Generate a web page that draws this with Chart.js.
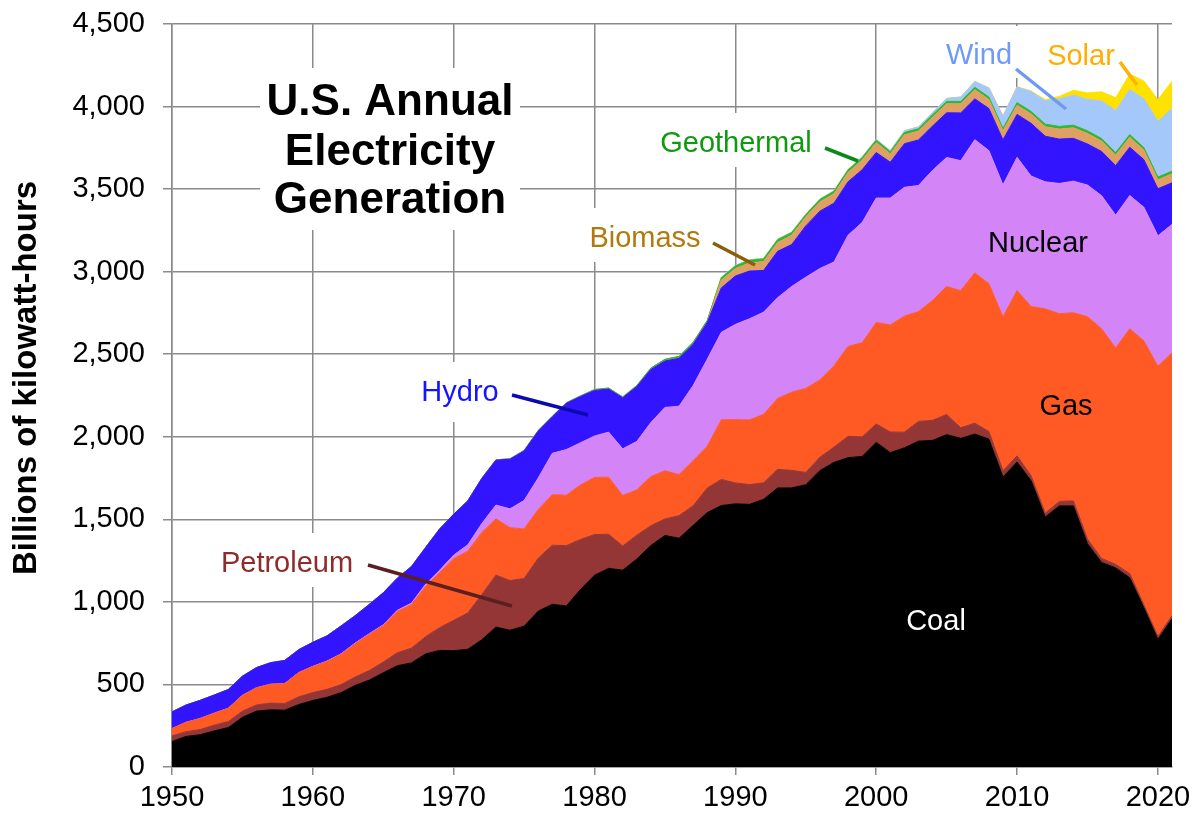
<!DOCTYPE html>
<html>
<head>
<meta charset="utf-8">
<script src="https://cdn.jsdelivr.net/npm/chart.js@4.4.1/dist/chart.umd.min.js"></script>
<style>
  html, body { margin: 0; padding: 0; background: #ffffff; }
  #wrap { width: 1200px; height: 822px; position: relative; }
</style>
</head>
<body>
<div id="wrap"><canvas id="c"></canvas></div>
<script>
// ---------- DATA (billion kWh) ----------
const years = [
  1950,1951,1952,1953,1954,1955,1956,1957,1958,1959,
  1960,1961,1962,1963,1964,1965,1966,1967,1968,1969,
  1970,1971,1972,1973,1974,1975,1976,1977,1978,1979,
  1980,1981,1982,1983,1984,1985,1986,1987,1988,1989,
  1990,1991,1992,1993,1994,1995,1996,1997,1998,1999,
  2000,2001,2002,2003,2004,2005,2006,2007,2008,2009,
  2010,2011,2012,2013,2014,2015,2016,2017,2018,2019,
  2020,2021
];
const coal = [
  154.5,185.2,195.4,218.8,239.1,301.4,338.5,346.4,344.4,378.4,
  403.1,421.9,450.2,493.9,526.2,570.9,613.5,630.5,684.9,706.0,
  704.4,713.1,771.1,847.7,828.4,852.8,944.4,985.2,975.7,1075.0,
  1161.6,1203.2,1192.0,1259.4,1341.7,1402.1,1385.8,1463.8,1540.7,1583.6,
  1594.0,1590.6,1621.2,1690.1,1690.7,1709.4,1795.2,1845.0,1873.5,1881.1,
  1966.3,1904.0,1933.1,1973.7,1978.3,2012.9,1990.5,2016.5,1985.8,1755.9,
  1847.3,1733.4,1514.0,1581.1,1581.7,1352.4,1239.1,1205.8,1146.0,965.0,
  773.4,897.9
];
const petroleum = [
  33.7,29.0,31.3,34.6,36.2,37.1,37.3,40.6,40.4,46.9,
  48.0,48.5,48.5,51.4,57.5,64.8,78.8,89.3,104.3,138.1,
  184.2,220.2,273.9,314.3,300.9,289.1,320.0,358.2,365.1,303.5,
  246.0,206.4,146.8,144.5,119.8,100.2,136.6,118.5,148.9,158.3,
  126.5,119.8,100.2,112.8,105.9,74.6,81.4,92.6,128.8,118.1,
  111.2,125.0,94.6,119.4,121.1,122.2,64.2,65.7,46.2,38.9,
  37.1,30.2,23.2,27.2,30.2,28.2,24.2,21.4,25.2,18.3,
  17.3,19.2
];
const gas = [
  44.6,56.7,67.3,72.8,81.1,95.3,104.3,114.5,120.0,146.5,
  158.0,169.3,184.3,202.0,220.0,221.6,251.2,264.8,304.4,333.3,
  372.9,374.0,375.7,340.9,320.1,299.8,294.6,305.5,305.4,329.5,
  346.2,345.8,305.3,274.1,297.4,291.9,248.5,272.6,252.8,361.1,
  383.2,391.6,414.3,429.4,473.6,509.1,468.0,492.2,545.0,570.2,
  614.6,648.2,702.8,665.3,725.8,774.9,830.4,910.7,894.9,931.6,
  1000.9,1025.0,1237.6,1137.1,1139.1,1346.5,1391.3,1310.0,1482.7,1598.1,
  1636.3,1591.2
];
const nuclear = [
  0,0,0,0,0,0,0,0.01,0.2,0.19,
  0.5,1.7,2.3,3.2,3.3,3.7,5.5,7.7,12.5,13.9,
  21.8,38.1,54.1,83.5,114.0,172.5,191.1,250.9,276.4,255.2,
  251.1,272.7,282.8,293.7,327.6,383.7,414.0,455.3,527.0,529.4,
  576.9,612.6,618.8,610.3,640.4,673.4,674.7,628.6,673.7,728.3,
  753.9,768.8,780.1,763.7,788.5,782.0,787.2,806.4,806.2,798.9,
  807.0,790.2,769.3,789.0,797.2,797.2,805.7,805.0,807.1,809.4,
  789.9,778.2
];
const hydro = [
  100.9,104.4,109.6,109.6,113.0,116.2,122.0,130.2,140.2,138.6,
  145.8,152.4,168.6,165.8,177.1,193.9,194.8,221.5,222.5,250.2,
  247.5,266.3,273.1,272.1,301.0,300.0,284.3,220.5,280.4,280.0,
  276.0,261.0,309.2,332.1,321.2,281.1,290.8,249.7,223.0,269.2,
  292.9,289.0,253.1,280.5,254.1,310.8,347.2,356.5,323.3,319.5,
  275.6,217.0,264.3,275.8,268.4,270.3,289.2,247.5,254.8,273.4,
  260.2,319.4,276.2,268.6,259.4,249.1,267.8,300.3,292.5,287.9,
  285.3,251.6
];
const biomass = [
  0.4,0.4,0.4,0.4,0.3,0.3,0.3,0.2,0.2,0.2,
  0.1,0.1,0.1,0.1,0.1,0.1,0.1,0.1,0.1,0.1,
  0.2,0.2,0.2,0.2,0.2,0.2,0.2,0.2,0.2,0.3,
  0.4,0.4,0.4,0.5,0.6,0.9,1.0,1.2,1.7,46.8,
  45.8,49.4,53.5,53.8,56.2,54.1,56.1,57.0,56.8,58.4,
  60.7,49.7,53.7,53.3,53.5,54.3,54.9,55.5,55.0,54.5,
  56.1,56.7,57.6,60.9,64.0,63.6,62.8,62.8,60.5,57.5,
  54.5,54.4
];
const geothermal = [
  0,0,0,0,0,0,0,0,0,0,
  0.03,0.1,0.1,0.2,0.2,0.2,0.2,0.3,0.4,0.6,
  0.5,0.5,1.5,2.0,2.5,3.2,3.6,3.6,3.0,3.9,
  5.1,5.7,4.8,6.1,7.7,9.3,10.3,10.8,10.3,14.6,
  15.4,16.0,16.1,16.8,15.5,13.4,14.3,14.7,14.8,14.8,
  14.1,13.7,14.5,14.4,14.8,14.7,14.6,14.6,14.8,15.0,
  15.2,15.3,15.6,15.8,15.9,15.9,15.8,15.9,16.0,15.5,
  16.0,16.0
];
const wind = [
  0,0,0,0,0,0,0,0,0,0,
  0,0,0,0,0,0,0,0,0,0,
  0,0,0,0,0,0,0,0,0,0,
  0,0,0,0,0,0,0,0,0,2.1,
  2.8,3.0,2.9,3.0,3.4,3.2,3.2,3.3,3.0,4.5,
  5.6,6.7,10.4,11.2,14.1,17.8,26.6,34.5,55.4,73.9,
  94.7,120.2,140.8,167.8,181.7,190.7,227.0,254.3,272.7,295.9,
  337.9,379.8
];
const solar = [
  0,0,0,0,0,0,0,0,0,0,
  0,0,0,0,0,0,0,0,0,0,
  0,0,0,0,0,0,0,0,0,0,
  0,0,0,0,0,0,0,0,0,0.3,
  0.4,0.5,0.4,0.5,0.5,0.5,0.5,0.5,0.5,0.5,
  0.5,0.5,0.6,0.5,0.6,0.6,0.5,0.6,0.9,0.9,
  2.0,3.5,7.0,14.0,28.9,39.0,55.5,77.3,93.4,107.2,
  131.2,164.4
];
const xTickYears = [1950,1960,1970,1980,1990,2000,2010,2020];
const yTickStep = 500;
const yMax = 4500;

const seriesNames  = ['Coal','Petroleum','Gas','Nuclear','Hydro','Biomass','Geothermal','Wind','Solar'];
const seriesData   = [coal, petroleum, gas, nuclear, hydro, biomass, geothermal, wind, solar];
const seriesColors = ['#000000','#943636','#FF5A24','#D385F8','#3314FF','#E0A064','#2DB82D','#A5C8FA','#FFE100'];

// ---------- annotation styling ----------
const FONT = "'Liberation Sans', Arial, Helvetica, sans-serif";
const whiteBoxes = [
  [260, 68, 260, 162],   // title
  [210, 533, 155, 54],   // Petroleum
  [405, 362, 107, 60],   // Hydro
  [578, 208, 134, 54],   // Biomass
  [650, 113, 172, 54],   // Geothermal
  [935, 26, 86, 52],     // Wind
  [1040, 30, 85, 48]     // Solar
];
const labels = [
  {t:'Petroleum', x:287, y:572, c:'#8E2B2B'},
  {t:'Hydro',     x:460, y:401, c:'#1414FF'},
  {t:'Biomass',   x:645, y:247, c:'#B07A0C'},
  {t:'Geothermal',x:736, y:152, c:'#0E9A0E'},
  {t:'Wind',      x:979, y:64,  c:'#6F9AF5'},
  {t:'Solar',     x:1081,y:65,  c:'#FFAE00'},
  {t:'Nuclear',   x:1038,y:252, c:'#000000'},
  {t:'Gas',       x:1066,y:415, c:'#000000'},
  {t:'Coal',      x:936, y:630, c:'#FFFFFF'}
];
const leaders = [
  {x1:368, y1:565, x2:512, y2:606, c:'#5C1F1F'},
  {x1:512, y1:395, x2:588, y2:415, c:'#0A0AB0'},
  {x1:713, y1:243, x2:755, y2:265, c:'#8B5E0A'},
  {x1:825, y1:148, x2:858, y2:161, c:'#0A8A1A'},
  {x1:1016,y1:69,  x2:1066,y2:109, c:'#6E9BF0'},
  {x1:1120,y1:62,  x2:1137,y2:85,  c:'#FFB000'}
];

const annotPlugin = {
  id: 'annot',
  beforeDatasetsDraw(chart) {
    const ctx = chart.ctx;
    ctx.save();
    ctx.fillStyle = '#ffffff';
    whiteBoxes.forEach(b => ctx.fillRect(b[0], b[1], b[2], b[3]));
    ctx.restore();
  },
  afterDatasetsDraw(chart) {
    const ctx = chart.ctx;
    ctx.save();
    ctx.lineCap = 'butt';
    leaders.forEach(l => {
      ctx.strokeStyle = l.c; ctx.lineWidth = 3.5;
      ctx.beginPath(); ctx.moveTo(l.x1, l.y1); ctx.lineTo(l.x2, l.y2); ctx.stroke();
    });
    ctx.textAlign = 'center';
    ctx.textBaseline = 'alphabetic';
    ctx.font = '29px ' + FONT;
    labels.forEach(l => { ctx.fillStyle = l.c; ctx.fillText(l.t, l.x, l.y); });
    ctx.fillStyle = '#000000';
    ctx.font = 'bold 44px ' + FONT;
    ctx.fillText('U.S. Annual', 390, 115);
    ctx.fillText('Electricity', 390, 165);
    ctx.fillText('Generation', 390, 213);
    ctx.translate(36, 378);
    ctx.rotate(-Math.PI / 2);
    ctx.font = 'bold 33px ' + FONT;
    ctx.fillText('Billions of kilowatt-hours', 0, 0);
    ctx.restore();
  }
};

const datasets = seriesNames.map((name, i) => ({
  label: name,
  data: seriesData[i],
  backgroundColor: seriesColors[i],
  borderColor: seriesColors[i],
  borderWidth: 1,
  pointRadius: 0,
  tension: 0,
  fill: i === 0 ? 'origin' : '-1'
}));

new Chart(document.getElementById('c'), {
  type: 'line',
  data: { labels: years, datasets },
  plugins: [annotPlugin],
  options: {
    responsive: true,
    maintainAspectRatio: false,
    animation: false,
    layout: { padding: { left: 0, right: 28, top: 24, bottom: 0 } },
    plugins: { legend: { display: false }, tooltip: { enabled: false } },
    scales: {
      x: {
        type: 'linear',
        min: years[0],
        max: years[years.length - 1],
        afterBuildTicks(scale) { scale.ticks = xTickYears.map(v => ({ value: v })); },
        afterFit(scale) { scale.height = 55; },
        ticks: {
          color: '#000000',
          font: { family: FONT, size: 29 },
          padding: 6,
          maxRotation: 0,
          autoSkip: false,
          callback: v => String(v)
        },
        grid: { color: '#8a8a8a', lineWidth: 1.5, tickLength: 8, drawTicks: true },
        border: { display: true, color: '#8a8a8a', width: 1.5 }
      },
      y: {
        stacked: true,
        min: 0,
        max: yMax,
        afterFit(scale) { scale.width = 172; scale.paddingTop = 0; scale.paddingBottom = 0; },
        ticks: {
          stepSize: yTickStep,
          color: '#000000',
          font: { family: FONT, size: 29 },
          padding: 18,
          callback: v => Number(v).toLocaleString('en-US')
        },
        grid: { color: '#8a8a8a', lineWidth: 1.5, tickLength: 9, drawTicks: true },
        border: { display: true, color: '#8a8a8a', width: 1.5 }
      }
    }
  }
});
</script>
</body>
</html>
